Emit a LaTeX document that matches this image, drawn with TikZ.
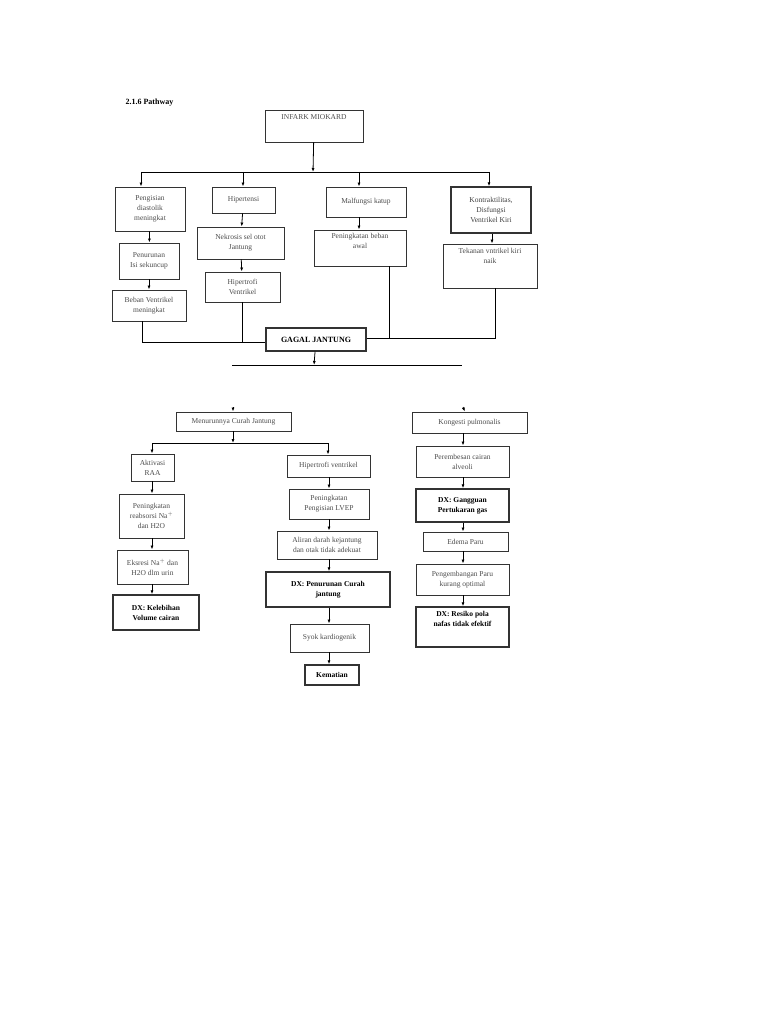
\documentclass[tikz,border=0pt]{standalone}
\usepackage{fontspec}
\setmainfont{Liberation Serif}
\usetikzlibrary{arrows.meta,calc}
\begin{document}
\begin{tikzpicture}[x=1pt,y=-1pt,
  bx/.style={draw=black!80,line width=0.9pt,inner sep=1pt,align=center,font=\fontsize{7.5}{10}\selectfont,text=black!70},
  dx/.style={bx,line width=1.4pt,text=black,font=\fontsize{7.5}{10}\selectfont\bfseries},
  ar/.style={line width=0.8pt,-{Latex[length=4pt,width=3pt]}},
  ln/.style={line width=0.8pt}]
\useasboundingbox (0,0) rectangle (768,1024);
\fill[white] (0,0) rectangle (768,1024);
\newcommand{\bx}[7][bx]{\node[#1,minimum width=#4-#2,minimum height=#5-#3] (#7) at ({(#2+#4)/2},{(#3+#5)/2}) {#6};}
\node[font=\fontsize{8}{10}\selectfont\bfseries,anchor=west] (title) at (122,103) {2.1.6 Pathway};
\bx{265}{110}{363}{142}{INFARK MIOKARD\\[8pt]}{inf}
\bx{115}{187}{185}{231}{Pengisian\\diastolik\\meningkat}{b1}
\bx{212}{187}{275}{213}{Hipertensi}{b2}
\bx{326}{187}{406}{217}{Malfungsi katup}{b3}
\bx[dx,font=\fontsize{7.5}{10}\selectfont,text=black!75]{451}{187}{531}{233}{Kontraktilitas,\\Disfungsi\\Ventrikel Kiri}{b4}
\bx{119}{243}{179}{279}{Penurunan\\Isi sekuncup}{c1}
\bx{197}{227}{284}{259}{Nekrosis sel otot\\Jantung}{c2}
\bx{314}{230}{406}{266}{Peningkatan beban\\awal\\[4pt]}{c3}
\bx{443}{244}{537}{288}{Tekanan vntrikel kiri\\naik\\[10pt]}{c4}
\bx{112}{290}{186}{321}{Beban Ventrikel\\meningkat}{d1}
\bx{205}{272}{280}{302}{Hipertrofi\\Ventrikel}{d2}
\bx[dx,font=\fontsize{8}{10}\selectfont\bfseries]{266}{328}{366}{351}{GAGAL JANTUNG}{gj}
% top bus
\coordinate (t0) at (313,172);
\draw[ar] (inf) -- (t0);
\draw[ln] (141,172) -- (489,172);
\foreach \n/\x in {b1/141,b2/243,b3/359,b4/489}{\draw[ar] (\x,172) -- (\n.north -| \x,0);}
\draw[ar] (b1) -- (c1); \draw[ar] (c1) -- (d1);
\draw[ar] (b2) -- (c2); \draw[ar] (c2) -- (d2);
\draw[ar] (b3.south -| 359,0) -- (c3.north -| 359,0);
\draw[ar] (b4.south -| 492,0) -- (c4.north -| 492,0);
\draw[ln] (d1.south -| 142,0) |- (gj.west |- 0,342);
\draw[ln] (d2) |- (gj.west |- 0,342);
\draw[ln] (c3.south -| 389,0) -- (389,338);
\draw[ln] (c4.south -| 495,0) |- (gj.east |- 0,338);
\coordinate (g0) at (314,365);
\draw[ar] (gj) -- (g0);
\draw[ln] (232,365) -- (462,365);
% lower
\bx{176}{412}{291}{431}{Menurunnya Curah Jantung}{m}
\bx{412}{412}{527}{433}{Kongesti pulmonalis}{k}
\draw[ar] (233,407) -- (m.north -| 233,0);
\draw[ar] (463,407) -- (k);
\bx{131}{454}{174}{481}{Aktivasi\\RAA}{a1}
\bx{119}{494}{184}{538}{Peningkatan\\reabsorsi Na$^{+}$\\dan H2O}{a2}
\bx{117}{550}{188}{584}{Eksresi Na$^{+}$ dan\\H2O dlm urin}{a3}
\bx[dx]{113}{595}{199}{630}{DX: Kelebihan\\Volume cairan}{a4}
\bx{287}{455}{370}{477}{Hipertrofi ventrikel}{h1}
\bx{289}{489}{369}{519}{Peningkatan\\Pengisian LVEP}{h2}
\bx{277}{531}{377}{559}{Aliran darah kejantung\\dan otak tidak adekuat}{h3}
\bx[dx]{266}{572}{390}{607}{DX: Penurunan Curah\\jantung}{h4}
\bx{290}{624}{369}{652}{Syok kardiogenik}{h5}
\bx[dx]{305}{665}{359}{685}{Kematian}{h6}
\bx{416}{446}{509}{477}{Perembesan cairan\\alveoli}{p1}
\bx[dx]{416}{489}{509}{522}{DX: Gangguan\\Pertukaran gas}{p2}
\bx{423}{532}{508}{551}{Edema Paru}{p3}
\bx{416}{564}{509}{595}{Pengembangan Paru\\kurang optimal}{p4}
\bx[dx]{416}{607}{509}{647}{DX: Resiko pola\\nafas tidak efektif\\[6pt]}{p5}
\coordinate (m0) at (233,443);
\draw[ar] (m.south -| 233,0) -- (m0);
\draw[ln] (152,443) -- (328,443);
\draw[ar] (152,443) -- (a1.north -| 152,0);
\draw[ar] (328,443) -- (h1.north -| 328,0);
\draw[ar] (a1.south -| 152,0) -- (a2.north -| 152,0);
\draw[ar] (a2.south -| 152,0) -- (a3.north -| 152,0);
\draw[ar] (a3.south -| 152,0) -- (a4.north -| 152,0);
\foreach \u/\v in {h1/h2,h2/h3,h3/h4,h4/h5,h5/h6}{\draw[ar] (\u.south -| 329,0) -- (\v.north -| 329,0);}
\foreach \u/\v in {k/p1,p1/p2,p2/p3,p3/p4,p4/p5}{\draw[ar] (\u.south -| 463,0) -- (\v.north -| 463,0);}
\end{tikzpicture}
\end{document}
